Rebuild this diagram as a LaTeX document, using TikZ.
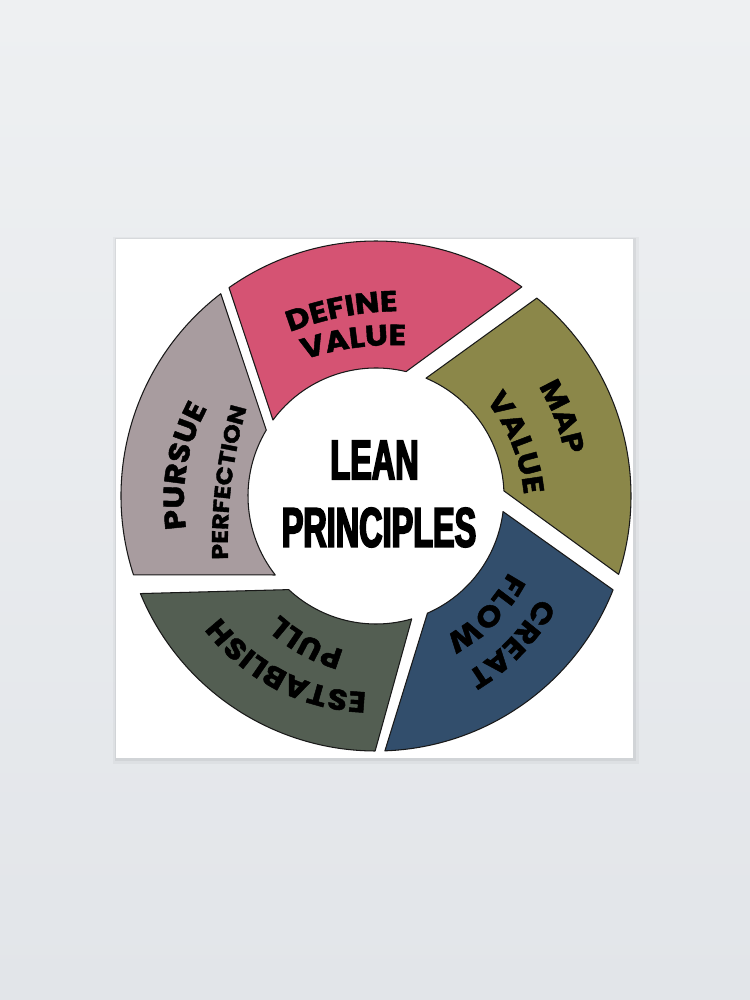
\documentclass[tikz,border=0pt]{standalone}
\usepackage{fontspec}
\usetikzlibrary{decorations.text}
\newfontfamily\segfam[FakeStretch=1.12,FakeBold=1.6]{Poppins}
\newfontfamily\cenfam[FakeStretch=0.58,FakeBold=3]{Liberation Sans}
\newcommand\seglbl{\segfam\bfseries\fontsize{16.5}{16.5}\selectfont}
\newcommand\seglblsmall{\segfam\bfseries\fontsize{12.8}{12.8}\selectfont}
% #1,#2 middle of the text line, #3 rotation there, #4 baseline radius,
% #5 half arc angle, #6 half cap height, #7 text
\newcommand\ringlabel[7]{%
  \begin{scope}[shift={(#1,#2)},rotate=#3]
    \path[arclabel={#7}] ([shift={(0,-#6-#4)}]90+#5:#4)
      arc[start angle=90+#5,end angle=90-#5,radius=#4];
  \end{scope}}
\definecolor{bgtop}{RGB}{238,240,242}
\definecolor{bgbot}{RGB}{226,229,233}
\definecolor{cdef}{RGB}{213,83,115}
\definecolor{cmap}{RGB}{139,135,73}
\definecolor{cflow}{RGB}{50,78,108}
\definecolor{cpull}{RGB}{83,94,82}
\definecolor{cperf}{RGB}{168,156,159}
\begin{document}
\begin{tikzpicture}[x=0.02cm,y=0.02cm,
  seg/.style={draw=black!90,line width=0.6pt,line join=round},
  cen/.style={font=\cenfam\bfseries\fontsize{31.8}{32}\selectfont,inner sep=0pt,text=black},
  arclabel/.style={decorate,decoration={text along path,text align=center,text color=black,text={#1}}}]
% background
\shade[top color=bgtop,bottom color=bgbot] (-376,496) rectangle (374,-504);
\useasboundingbox (-376,496) rectangle (374,-504);
% shadow and white card
\fill[black,opacity=0.03] (-263,259) rectangle (263,-268);
\fill[black,opacity=0.05] (-261,258) rectangle (260,-265);
\fill[white] (-260,257) rectangle (257,-262);
% segments
\draw[seg,fill=cdef] (125.2:255) arc[start angle=125.2,end angle=55.1,radius=255]
  -- (76.4:128) arc[start angle=76.4,end angle=143.6,radius=128] -- cycle;
\draw[seg,fill=cmap] (50.9:255) arc[start angle=50.9,end angle=-17.9,radius=255]
  -- (2.3:128) arc[start angle=2.3,end angle=67,radius=128] -- cycle;
\draw[seg,fill=cflow] (-21.6:255) arc[start angle=-21.6,end angle=-88,radius=255]
  -- (-66.3:128) arc[start angle=-66.3,end angle=-7,radius=128] -- cycle;
\draw[seg,fill=cpull] (-90.2:255) arc[start angle=-90.2,end angle=-157.5,radius=255]
  -- (-133:128) arc[start angle=-133,end angle=-73.8,radius=128] -- cycle;
\draw[seg,fill=cperf] (198:255) arc[start angle=198,end angle=127.5,radius=255]
  -- (149:128) arc[start angle=149,end angle=218.1,radius=128] -- cycle;
% segment labels
\ringlabel{-35}{189}{11}{310}{25}{10}{|\seglbl|DEFINE}
\ringlabel{-23}{158}{8}{290}{25}{10}{|\seglbl|VALUE}
\ringlabel{188}{80}{-69}{210}{30}{10}{|\seglbl|MAP}
\ringlabel{145}{55}{-68}{180}{35}{10}{|\seglbl|VALUE}
\ringlabel{139}{-151}{-134}{200}{30}{10}{|\seglbl|CREAT}
\ringlabel{112.5}{-120.5}{-135}{150}{35}{10}{|\seglbl|FLOW}
\ringlabel{-96}{-184}{152.7}{190}{40}{10}{|\seglbl|ESTABLISH}
\ringlabel{-71}{-149}{151}{155}{35}{10}{|\seglbl|PULL}
\ringlabel{-199}{31}{80}{190}{35}{10}{|\seglbl|PURSUE}
\ringlabel{-152}{14}{83}{492.5}{15}{7.5}{|\seglblsmall|PERFECTION}
% centre text
\node[cen] (lean) at (-1.5,36) {LEAN};
\node[cen] (principles) at (3,-31.5) {PRINCIPLES};
\end{tikzpicture}
\end{document}
